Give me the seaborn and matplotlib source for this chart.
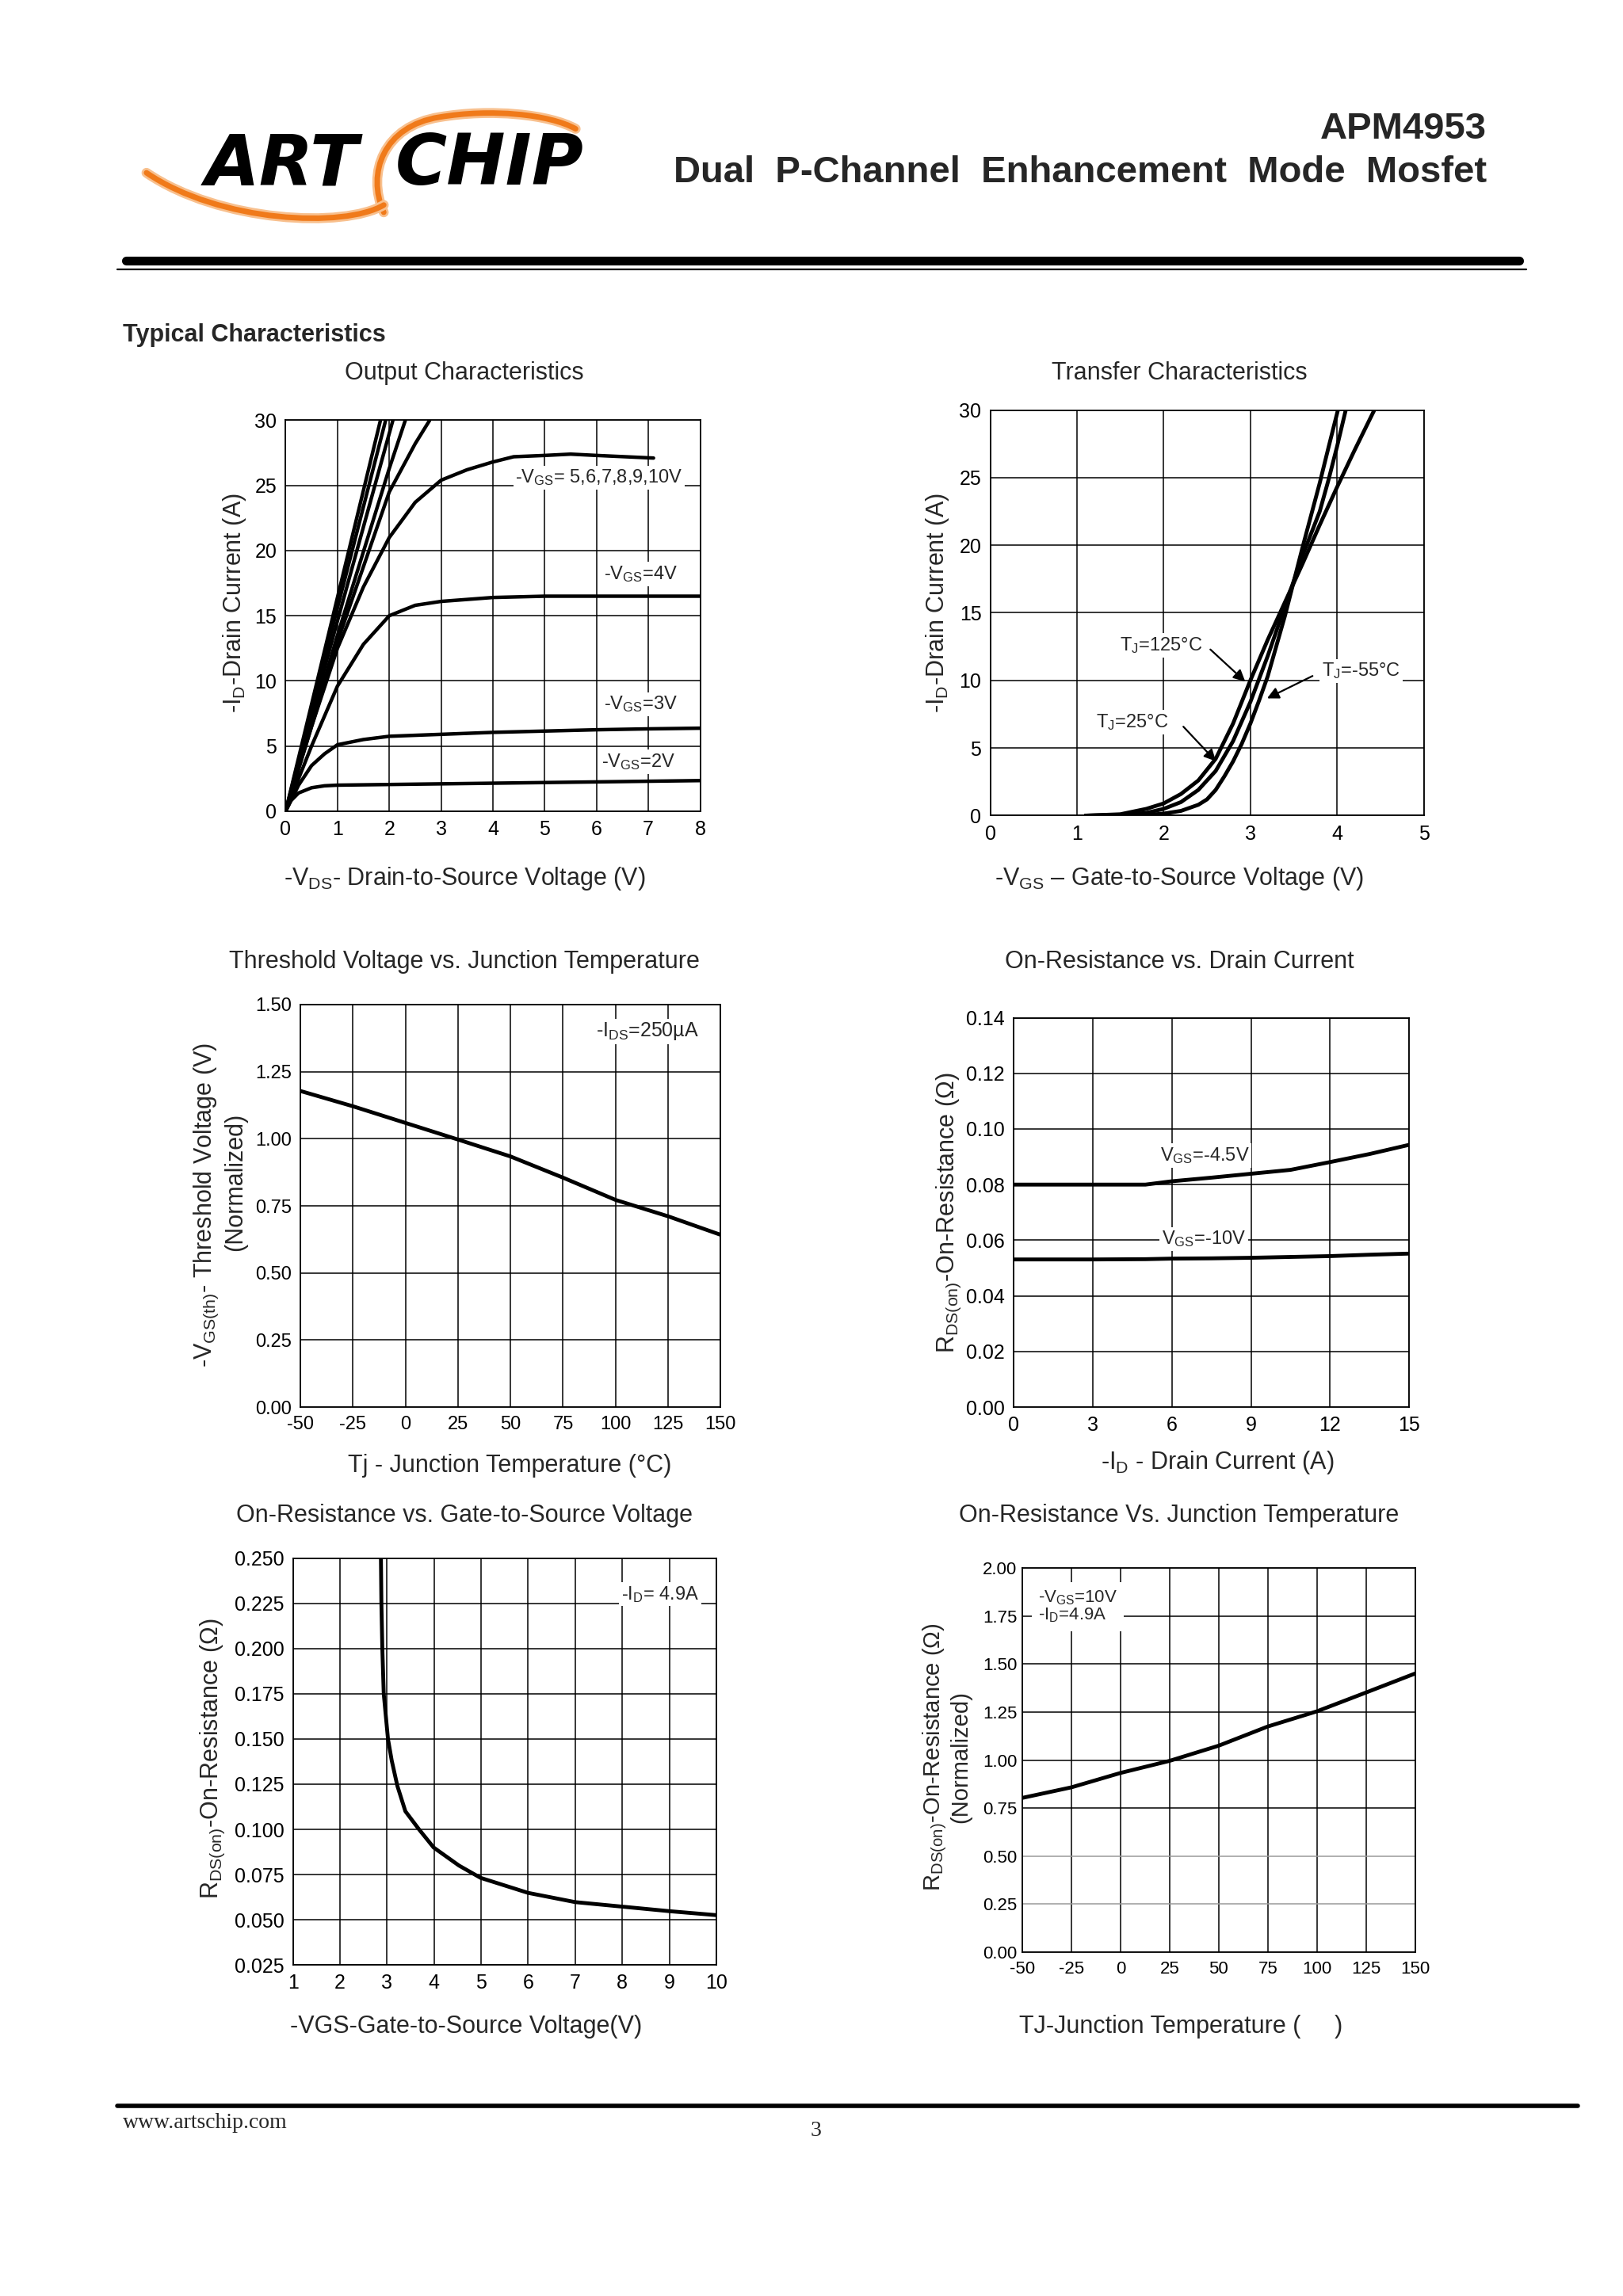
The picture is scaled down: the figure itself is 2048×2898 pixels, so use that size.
# %%
import pandas as pd
import numpy as np
import seaborn as sns
import matplotlib.pyplot as plt
from matplotlib.lines import Line2D
from matplotlib.path import Path
from matplotlib.patches import PathPatch

# %%
# Values read from the APM4953 datasheet page (typical characteristics)

# Output characteristics: -VDS (V) vs -ID (A), one curve per -VGS
vds_2v = [0, 0.1, 0.25, 0.5, 0.75, 1.0, 2, 3, 4, 5, 6, 7, 8]
id_2v = [0, 0.8, 1.4, 1.8, 1.95, 2.0, 2.05, 2.1, 2.15, 2.2, 2.25, 2.3, 2.35]
vds_3v = [0, 0.25, 0.5, 0.75, 1.0, 1.5, 2, 3, 4, 5, 6, 7, 8]
id_3v = [0, 2.0, 3.5, 4.4, 5.1, 5.5, 5.75, 5.9, 6.05, 6.15, 6.25, 6.32, 6.37]
vds_4v = [0, 0.5, 1.0, 1.5, 2.0, 2.5, 3, 4, 5, 6, 7, 8]
id_4v = [0, 5.0, 9.6, 12.8, 15.0, 15.8, 16.1, 16.4, 16.5, 16.5, 16.5, 16.5]
vds_5v = [0, 0.5, 1.0, 1.5, 2.0, 2.5, 3.0, 3.5, 4.0, 4.4, 5.0, 5.5, 6.0, 7.1]
id_5v = [0, 6.5, 12.5, 17.2, 21.0, 23.7, 25.4, 26.2, 26.8, 27.2, 27.3, 27.4, 27.3, 27.1]
vds_6v = [0, 1.0, 2.0, 2.5, 2.78]
id_6v = [0, 13.0, 24.5, 28.2, 30]
vds_7v = [0, 1.0, 2.0, 2.31]
id_7v = [0, 13.5, 26.3, 30]
vds_8v = [0, 1.0, 2.07]
id_8v = [0, 14.6, 30]
vds_9v = [0, 1.0, 1.93]
id_9v = [0, 15.6, 30]
vds_10v = [0, 1.0, 1.83]
id_10v = [0, 16.4, 30]

# Transfer characteristics: -VGS (V) vs -ID (A)
vgs_125 = [1.1, 1.5, 1.8, 2.0, 2.2, 2.4, 2.6, 2.8, 3.0, 3.2, 3.4, 3.6, 3.8, 4.0, 4.2, 4.43]
id_125 = [0, 0.1, 0.5, 0.9, 1.6, 2.6, 4.2, 6.8, 10.0, 13.0, 15.8, 18.6, 21.5, 24.3, 27.0, 30]
vgs_25 = [1.1, 1.5, 1.8, 2.0, 2.2, 2.4, 2.6, 2.8, 3.0, 3.2, 3.4, 3.6, 3.8, 3.9, 4.0, 4.1]
id_25 = [0, 0.05, 0.2, 0.5, 1.0, 1.9, 3.3, 5.5, 8.4, 11.8, 15.5, 19.2, 22.5, 24.8, 27.3, 30]
vgs_m55 = [1.1, 1.8, 2.0, 2.2, 2.4, 2.5, 2.6, 2.7, 2.8, 2.9, 3.0, 3.1, 3.2, 3.4, 3.6, 3.8, 3.9, 4.01]
id_m55 = [0, 0.05, 0.15, 0.35, 0.8, 1.2, 1.9, 2.9, 4.0, 5.3, 6.8, 8.5, 10.3, 14.8, 19.8, 24.6, 27.2, 30]

# Threshold voltage vs junction temperature
tj = [-50, -25, 0, 25, 50, 75, 100, 125, 150]
vth_norm = [1.178, 1.121, 1.059, 0.997, 0.934, 0.855, 0.772, 0.711, 0.642]

# On-resistance vs drain current
id_r = [0, 3, 5, 6, 7.5, 9, 10.5, 12, 13.5, 15]
rds_45v = [0.080, 0.080, 0.080, 0.0812, 0.0825, 0.0839, 0.0853, 0.0881, 0.0910, 0.0943]
rds_10v = [0.0531, 0.0531, 0.0532, 0.0534, 0.0535, 0.0537, 0.0540, 0.0543, 0.0548, 0.0552]

# On-resistance vs gate-to-source voltage (-ID = 4.9A)
vgs_r = [2.87, 2.88, 2.90, 2.93, 3.02, 3.10, 3.22, 3.39, 3.68, 3.99, 4.53, 4.99, 6.0, 7.0, 8.0, 9.0, 10.0]
rds_vgs = [0.250, 0.225, 0.200, 0.175, 0.150, 0.138, 0.124, 0.110, 0.100, 0.090, 0.080, 0.0732,
           0.0649, 0.0598, 0.0573, 0.0548, 0.0526]

# On-resistance (normalized) vs junction temperature
rds_norm = [0.803, 0.858, 0.933, 0.996, 1.075, 1.175, 1.254, 1.352, 1.451]

# tick values
ticks_id = [0, 5, 10, 15, 20, 25, 30]
ticks_vds = [0, 1, 2, 3, 4, 5, 6, 7, 8]
ticks_vgs = [0, 1, 2, 3, 4, 5]
ticks_tj = [-50, -25, 0, 25, 50, 75, 100, 125, 150]
ticks_vth = [0.00, 0.25, 0.50, 0.75, 1.00, 1.25, 1.50]
ticks_rds = [0.00, 0.02, 0.04, 0.06, 0.08, 0.10, 0.12, 0.14]
ticks_idr = [0, 3, 6, 9, 12, 15]
ticks_rv = [0.025, 0.050, 0.075, 0.100, 0.125, 0.150, 0.175, 0.200, 0.225, 0.250]
ticks_vg2 = [1, 2, 3, 4, 5, 6, 7, 8, 9, 10]
ticks_rn = [0.00, 0.25, 0.50, 0.75, 1.00, 1.25, 1.50, 1.75, 2.00]

# %%
sns.set_style("white")
plt.rcParams['font.family'] = ['Liberation Sans', 'DejaVu Sans']
plt.rcParams['mathtext.fontset'] = 'custom'
plt.rcParams['mathtext.rm'] = 'Liberation Sans'
plt.rcParams['mathtext.it'] = 'Liberation Sans:italic'
plt.rcParams['mathtext.bf'] = 'Liberation Sans:bold'
plt.rcParams['mathtext.default'] = 'regular'

W, H = 1108, 1568  # layout measured on the page
fig = plt.figure(figsize=(20.48, 28.98), dpi=100)
fig.patch.set_facecolor('white')


def fx(x):
    return x / W


def fy(y):
    return 1 - y / H


def box(l, t, r, b):
    return [fx(l), fy(b), (r - l) / W, (b - t) / H]


def style_ax(ax, xt, yt, xfmt, yfmt, size=18):
    ax.set_xticks(xt)
    ax.set_yticks(yt)
    ax.set_xlim(xt[0], xt[-1])
    ax.set_ylim(yt[0], yt[-1])
    ax.set_xticklabels([xfmt.format(v) for v in xt])
    ax.set_yticklabels([yfmt.format(v) for v in yt])
    ax.grid(True, color='black', lw=1.1)
    ax.set_axisbelow(True)
    for s in ax.spines.values():
        s.set_color('black')
        s.set_linewidth(1.3)
    ax.tick_params(length=0, labelsize=size, pad=8, colors='black')
    ax.set_xlabel('')
    ax.set_ylabel('')


def curve(ax, x, y, lw=3.5):
    df = pd.DataFrame({'x': x, 'y': y})
    sns.lineplot(data=df, x='x', y='y', ax=ax, color='black', lw=lw,
                 estimator=None, sort=False, legend=False)


wbox = dict(facecolor='white', edgecolor='none', pad=2)
af = 17

# %% Output characteristics
ax1 = fig.add_axes(box(195, 287, 478, 554))
for x, y in [(vds_2v, id_2v), (vds_3v, id_3v), (vds_4v, id_4v), (vds_5v, id_5v),
             (vds_6v, id_6v), (vds_7v, id_7v), (vds_8v, id_8v), (vds_9v, id_9v),
             (vds_10v, id_10v)]:
    curve(ax1, x, y, lw=3.2)
style_ax(ax1, ticks_vds, ticks_id, '{:d}', '{:d}')
ax1.text(6.05, 25.6, '-V$_{GS}$= 5,6,7,8,9,10V', fontsize=af, ha='center', va='center', bbox=wbox)
ax1.text(6.85, 18.2, '-V$_{GS}$=4V', fontsize=af, ha='center', va='center', bbox=wbox)
ax1.text(6.85, 8.2, '-V$_{GS}$=3V', fontsize=af, ha='center', va='center', bbox=wbox)
ax1.text(6.8, 3.8, '-V$_{GS}$=2V', fontsize=af, ha='center', va='center', bbox=wbox)

# %% Transfer characteristics
ax2 = fig.add_axes(box(676, 280, 972, 557))
curve(ax2, vgs_125, id_125)
curve(ax2, vgs_25, id_25)
curve(ax2, vgs_m55, id_m55)
style_ax(ax2, ticks_vgs, ticks_id, '{:d}', '{:d}')
arr = dict(arrowstyle='-|>', color='black', lw=1.6, mutation_scale=22)
ax2.text(1.97, 12.6, 'T$_{J}$=125°C', fontsize=af, ha='center', va='center', bbox=wbox)
ax2.annotate('', xy=(2.96, 9.8), xytext=(2.52, 12.4), arrowprops=arr)
ax2.text(4.28, 10.7, 'T$_{J}$=-55°C', fontsize=af, ha='center', va='center', bbox=wbox)
ax2.annotate('', xy=(3.17, 8.6), xytext=(3.74, 10.4), arrowprops=arr)
ax2.text(1.64, 6.9, 'T$_{J}$=25°C', fontsize=af, ha='center', va='center', bbox=wbox)
ax2.annotate('', xy=(2.62, 3.9), xytext=(2.21, 6.7), arrowprops=arr)

# %% Threshold voltage
ax3 = fig.add_axes(box(205, 686, 492, 961))
curve(ax3, tj, vth_norm)
style_ax(ax3, ticks_tj, ticks_vth, '{:d}', '{:.2f}', size=17)
ax3.text(115, 1.40, '-I$_{DS}$=250µA', fontsize=af + 1, ha='center', va='center', bbox=wbox)

# %% On-resistance vs drain current
ax4 = fig.add_axes(box(692, 695, 962, 961))
curve(ax4, id_r, rds_45v)
curve(ax4, id_r, rds_10v)
style_ax(ax4, ticks_idr, ticks_rds, '{:d}', '{:.2f}')
ax4.text(7.25, 0.0905, 'V$_{GS}$=-4.5V', fontsize=af, ha='center', va='center', bbox=wbox)
ax4.text(7.2, 0.0604, 'V$_{GS}$=-10V', fontsize=af, ha='center', va='center', bbox=wbox)

# %% On-resistance vs gate-source voltage
ax5 = fig.add_axes(box(200, 1064, 489, 1342))
curve(ax5, vgs_r, rds_vgs)
style_ax(ax5, ticks_vg2, ticks_rv, '{:d}', '{:.3f}')
ax5.text(8.8, 0.230, '-I$_{D}$= 4.9A', fontsize=af, ha='center', va='center', bbox=wbox)

# %% On-resistance vs junction temperature
ax6 = fig.add_axes(box(698, 1071, 966, 1333))
curve(ax6, tj, rds_norm)
style_ax(ax6, ticks_tj, ticks_rn, '{:d}', '{:.2f}', size=16)
ax6.tick_params(axis='y', pad=5)
for i, gl in enumerate(ax6.get_ygridlines()):
    if ticks_rn[i] in (0.25, 0.50):
        gl.set_color('#9a9a9a')
ax6.text(-42, 1.80, '-V$_{GS}$=10V\n-I$_{D}$=4.9A', fontsize=16, ha='left', va='center',
         linespacing=1.0, bbox=dict(facecolor='white', edgecolor='none', pad=6))

# %% Titles and axis labels
ts = 22
for x, y, s in [(317, 255, 'Output Characteristics'), (805, 255, 'Transfer Characteristics'),
                (317, 657, 'Threshold Voltage vs. Junction Temperature'),
                (805, 657, 'On-Resistance vs. Drain Current'),
                (317, 1035, 'On-Resistance vs. Gate-to-Source Voltage'),
                (805, 1035, 'On-Resistance Vs. Junction Temperature')]:
    fig.text(fx(x), fy(y), s, fontsize=ts, ha='center', va='center')

for x, y, s in [(317, 600, '-V$_{DS}$- Drain-to-Source Voltage (V)'),
                (805, 600, '-V$_{GS}$ – Gate-to-Source Voltage (V)'),
                (348, 1001, 'Tj - Junction Temperature (°C)'),
                (831, 999, '-I$_{D}$ - Drain Current (A)'),
                (318, 1384, '-VGS-Gate-to-Source Voltage(V)'),
                (806, 1384, 'TJ-Junction Temperature (     )')]:
    fig.text(fx(x), fy(y), s, fontsize=ts, ha='center', va='center')

for x, y, s, fs in [(160, 412, '-I$_{D}$-Drain Current (A)', ts),
                    (640, 412, '-I$_{D}$-Drain Current (A)', ts),
                    (141, 823, '-V$_{GS(th)}$- Threshold Voltage (V)', ts),
                    (161, 807, '(Normalized)', ts),
                    (648, 828, 'R$_{DS(on)}$-On-Resistance (Ω)', ts),
                    (145, 1201, 'R$_{DS(on)}$-On-Resistance (Ω)', ts),
                    (638, 1200, 'R$_{DS(on)}$-On-Resistance (Ω)', 21),
                    (656, 1200, '(Normalized)', 21)]:
    fig.text(fx(x), fy(y), s, fontsize=fs, ha='center', va='center', rotation=90)

# %% Page header / footer
fig.text(fx(1015), fy(88), 'APM4953', fontsize=34, fontweight='bold', ha='right', va='center')
fig.text(fx(1015), fy(118), 'Dual  P-Channel  Enhancement  Mode  Mosfet', fontsize=34,
         fontweight='bold', ha='right', va='center')
fig.text(fx(84), fy(229), 'Typical Characteristics', fontsize=22, fontweight='bold',
         ha='left', va='center')

fig.add_artist(Line2D([fx(86), fx(1037)], [fy(178), fy(178)], lw=8, color='black',
                      transform=fig.transFigure))
fig.add_artist(Line2D([fx(80), fx(1042)], [fy(184), fy(184)], lw=1.6, color='black',
                      transform=fig.transFigure))
fig.add_artist(Line2D([fx(80), fx(1077)], [fy(1438), fy(1438)], lw=4, color='black',
                      transform=fig.transFigure))
fig.text(fx(84), fy(1450), 'www.artschip.com', fontsize=20, family='Liberation Serif',
         ha='left', va='center')
fig.text(fx(557), fy(1455), '3', fontsize=20, family='Liberation Serif', ha='center', va='center')

# logo: orange swoosh + ART CHIP
orange = '#F07A1A'
swoosh_top = Path([(fx(262), fy(145)), (fx(250), fy(118)), (fx(262), fy(86)), (fx(300), fy(80)),
                   (fx(335), fy(74)), (fx(375), fy(78)), (fx(393), fy(88))],
                  [Path.MOVETO, Path.CURVE4, Path.CURVE4, Path.CURVE4,
                   Path.CURVE4, Path.CURVE4, Path.CURVE4])
swoosh_bot = Path([(fx(100), fy(118)), (fx(150), fy(152)), (fx(235), fy(156)), (fx(262), fy(140))],
                  [Path.MOVETO, Path.CURVE4, Path.CURVE4, Path.CURVE4])
for p in (swoosh_top, swoosh_bot):
    fig.add_artist(PathPatch(p, facecolor='none', edgecolor='#F8C08E', lw=9,
                             transform=fig.transFigure, capstyle='round'))
    fig.add_artist(PathPatch(p, facecolor='none', edgecolor=orange, lw=5,
                             transform=fig.transFigure, capstyle='round'))
fig.text(fx(140), fy(113), 'ART', fontsize=64, fontweight='bold', style='italic',
         family='DejaVu Sans', ha='left', va='center', color='black')
fig.text(fx(270), fy(113), 'CHIP', fontsize=64, fontweight='bold', style='italic',
         family='DejaVu Sans', ha='left', va='center', color='black')

plt.savefig('out.png', dpi=100, facecolor='white')
